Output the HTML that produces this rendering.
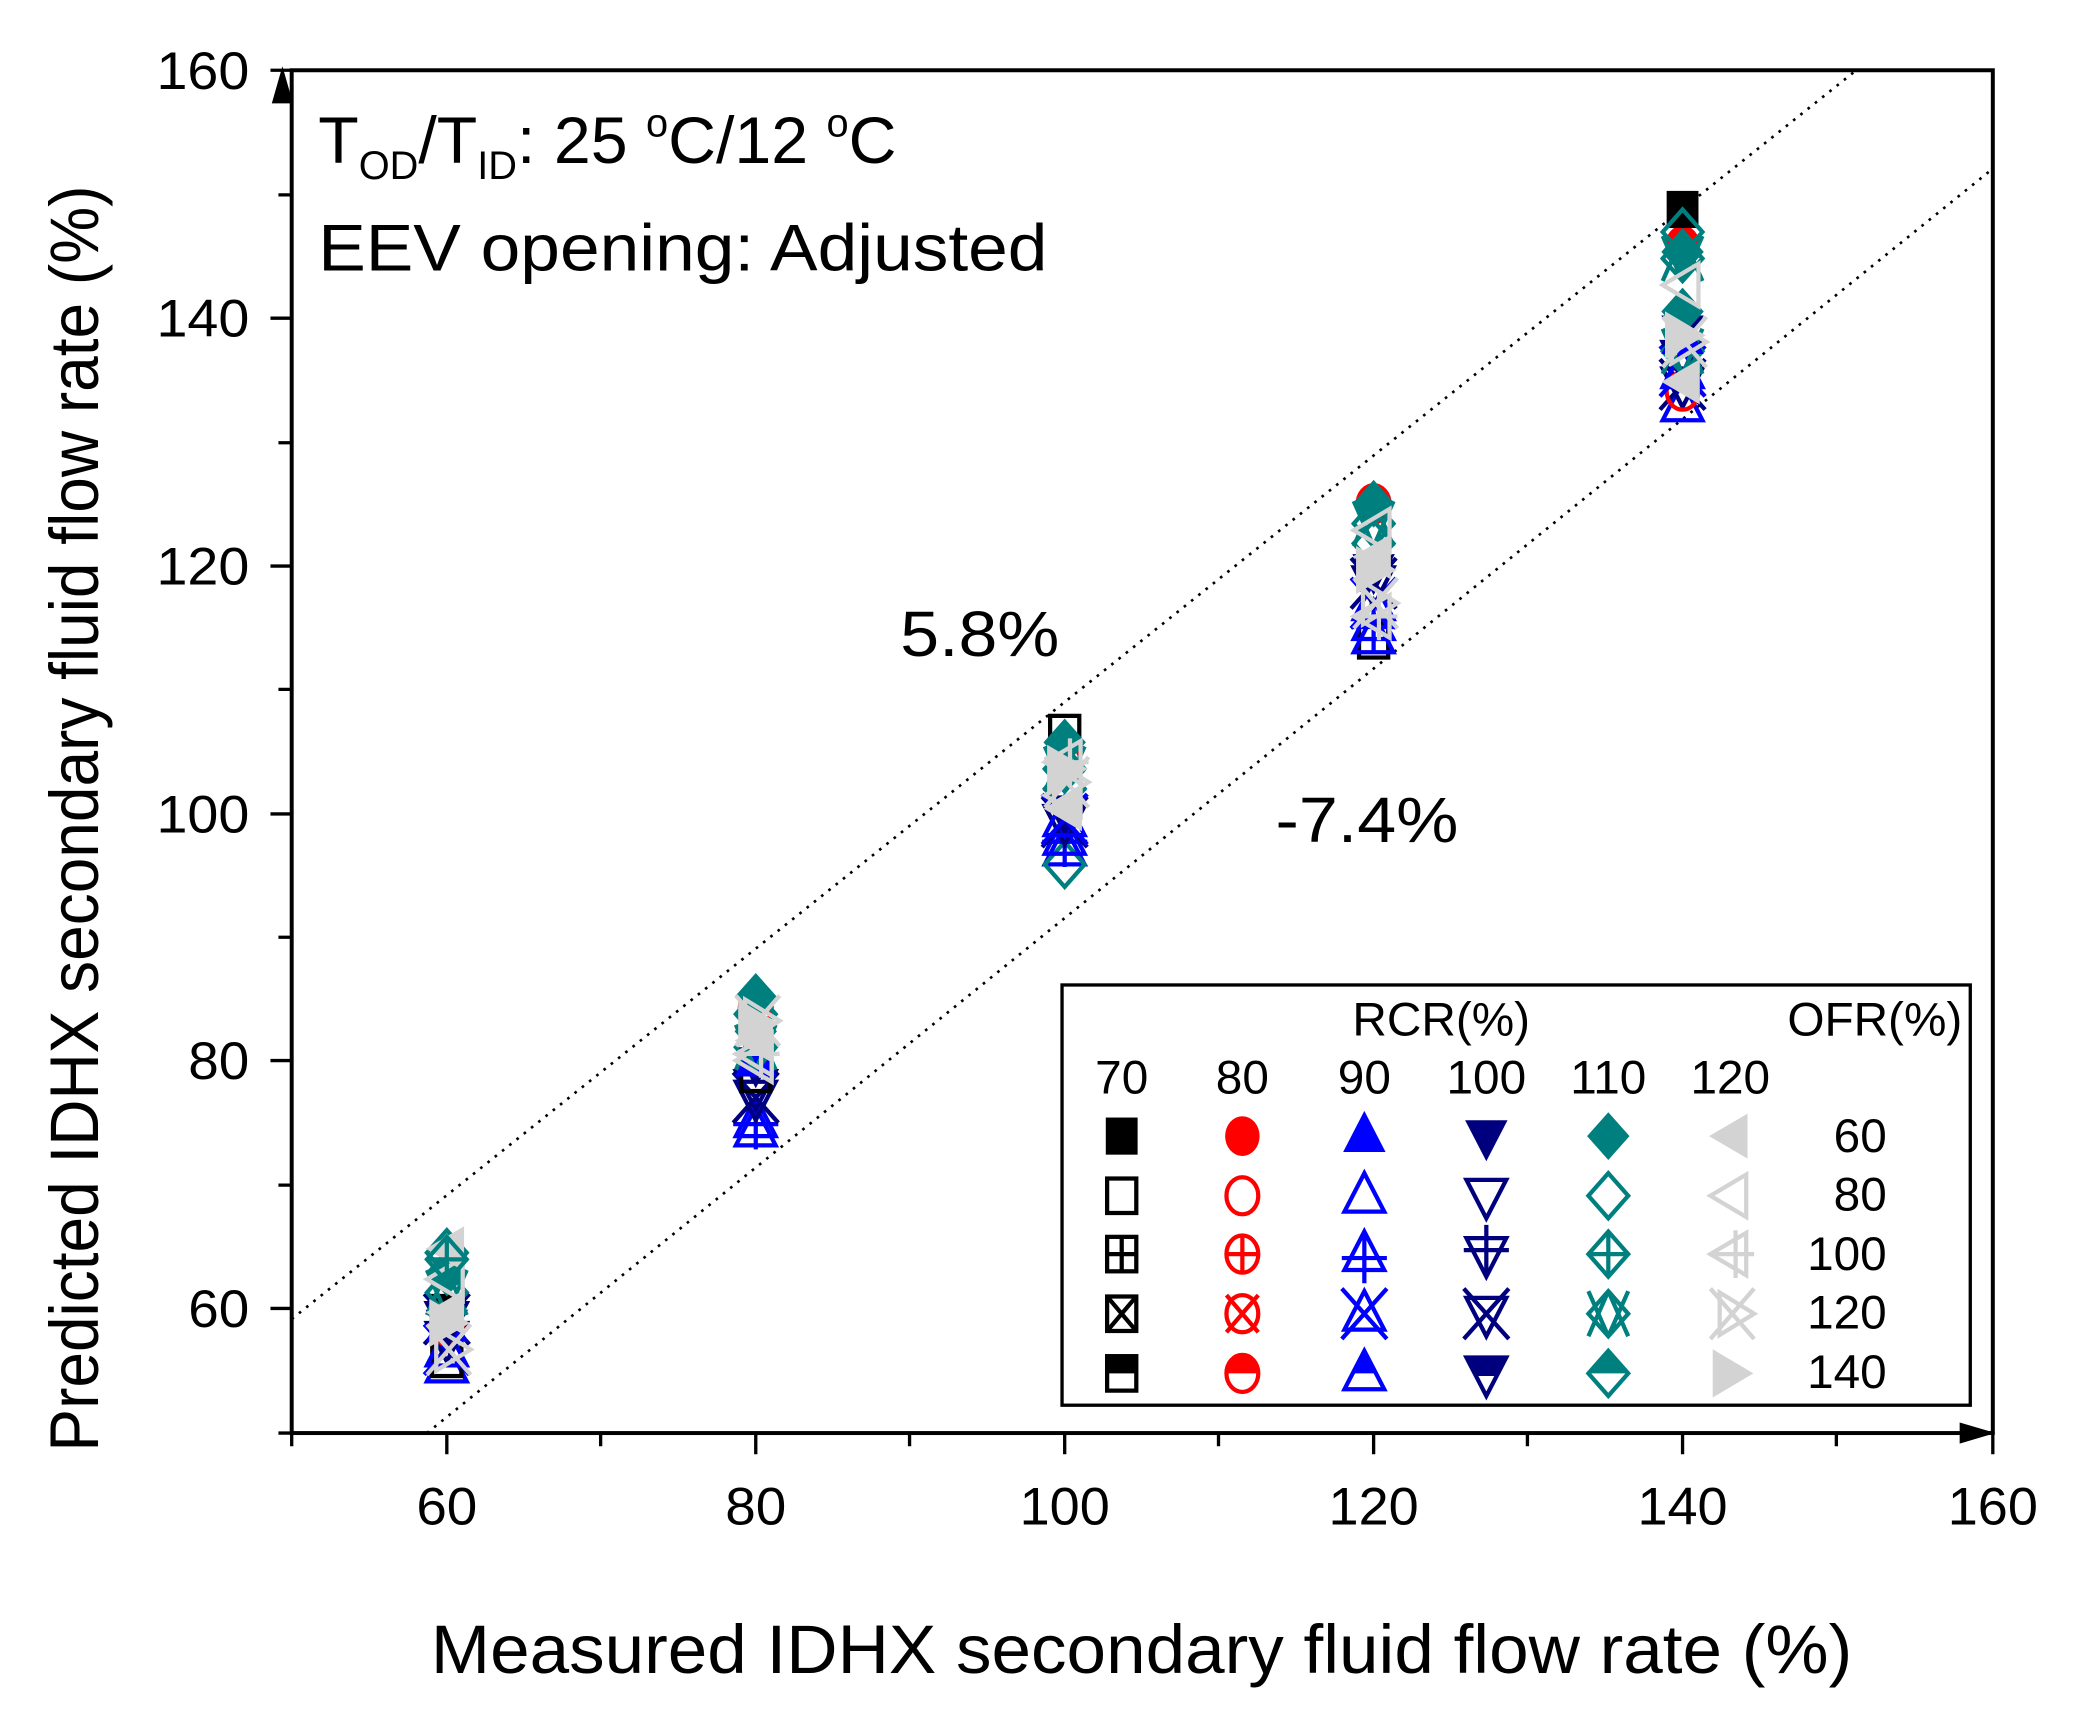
<!DOCTYPE html>
<html><head><meta charset="utf-8"><style>
html,body{margin:0;padding:0;background:#fff}
svg{display:block}
text{font-family:"Liberation Sans",Arial,sans-serif;fill:#000}
</style></head><body>
<svg width="2079" height="1730" viewBox="0 0 1568 1305" preserveAspectRatio="none" xmlns="http://www.w3.org/2000/svg">
<defs>
<g id="s0"><rect x="-12" y="-14" width="24" height="28" fill="#000"/></g>
<g id="s1"><rect x="-11" y="-13" width="22" height="26" fill="none" stroke="#000" stroke-width="3.2"/></g>
<g id="s2"><rect x="-11" y="-13" width="22" height="26" fill="none" stroke="#000" stroke-width="3.2"/><path d="M0-13V13M-11 0H11" stroke="#000" stroke-width="3.2"/></g>
<g id="s3"><rect x="-11" y="-13" width="22" height="26" fill="none" stroke="#000" stroke-width="3.2"/><path d="M-11-13L11 13M11-13L-11 13" stroke="#000" stroke-width="3.2"/></g>
<g id="s4"><rect x="-11" y="-13" width="22" height="13" fill="#000"/><rect x="-11" y="-13" width="22" height="26" fill="none" stroke="#000" stroke-width="3.2"/></g>
<g id="c0"><ellipse rx="13" ry="15" fill="#f00"/></g>
<g id="c1"><ellipse rx="12" ry="14" fill="none" stroke="#f00" stroke-width="3.2"/></g>
<g id="c2"><ellipse rx="12" ry="14" fill="none" stroke="#f00" stroke-width="3.2"/><path d="M0-14V14M-12 0H12" stroke="#f00" stroke-width="3.2"/></g>
<g id="c3"><ellipse rx="12" ry="14" fill="none" stroke="#f00" stroke-width="3.2"/><path d="M-12-14L12 14M12-14L-12 14" stroke="#f00" stroke-width="3.2"/></g>
<g id="c4"><path d="M-13 0A13 15 0 0 1 13 0Z" fill="#f00"/><ellipse rx="12" ry="14" fill="none" stroke="#f00" stroke-width="3.2"/></g>
<g id="u0"><path d="M0-19L16 12H-16Z" fill="#00f"/></g>
<g id="u1"><path d="M0-17L15 12H-15Z" fill="none" stroke="#00f" stroke-width="3.2"/></g>
<g id="u2"><path d="M0-17L15 12H-15Z" fill="none" stroke="#00f" stroke-width="3.2"/><path d="M0-17V22M-17 3H17" stroke="#00f" stroke-width="3.2"/></g>
<g id="u3"><path d="M0-17L15 12H-15Z" fill="none" stroke="#00f" stroke-width="3.2"/><path d="M-17-19L17 19M17-19L-17 19" stroke="#00f" stroke-width="3.2"/></g>
<g id="u4"><path d="M0-19L9 0H-9Z" fill="#00f"/><path d="M0-17L15 12H-15Z" fill="none" stroke="#00f" stroke-width="3.2"/></g>
<g id="d0"><path d="M-16-12H16L0 19Z" fill="#00007f"/></g>
<g id="d1"><path d="M-15-12H15L0 17Z" fill="none" stroke="#00007f" stroke-width="3.2"/></g>
<g id="d2"><path d="M-15-12H15L0 17Z" fill="none" stroke="#00007f" stroke-width="3.2"/><path d="M0-22V17M-17-3H17" stroke="#00007f" stroke-width="3.2"/></g>
<g id="d3"><path d="M-15-12H15L0 17Z" fill="none" stroke="#00007f" stroke-width="3.2"/><path d="M-17-19L17 19M17-19L-17 19" stroke="#00007f" stroke-width="3.2"/></g>
<g id="d4"><path d="M-16-12H16L9 2H-9Z" fill="#00007f"/><path d="M-15-12H15L0 17Z" fill="none" stroke="#00007f" stroke-width="3.2"/></g>
<g id="m0"><path d="M0-18L16 0L0 18L-16 0Z" fill="#007f7f"/></g>
<g id="m1"><path d="M0-17L15 0L0 17L-15 0Z" fill="none" stroke="#007f7f" stroke-width="3.2"/></g>
<g id="m2"><path d="M0-17L15 0L0 17L-15 0Z" fill="none" stroke="#007f7f" stroke-width="3.2"/><path d="M0-17V17M-15 0H15" stroke="#007f7f" stroke-width="3.2"/></g>
<g id="m3"><path d="M0-17L15 0L0 17L-15 0Z M0-17L-15 17M0-17L15 17M0 17L-15-17M0 17L15-17" fill="none" stroke="#007f7f" stroke-width="3.2"/></g>
<g id="m4"><path d="M0-18L16 0H-16Z" fill="#007f7f"/><path d="M0-17L15 0L0 17L-15 0Z" fill="none" stroke="#007f7f" stroke-width="3.2"/></g>
<g id="l0"><path d="M13-17V17L-16 0Z" fill="#d3d3d3"/></g>
<g id="l1"><path d="M12-16V16L-15 0Z" fill="none" stroke="#d3d3d3" stroke-width="3.2"/></g>
<g id="l2"><path d="M12-16V16L-15 0Z" fill="none" stroke="#d3d3d3" stroke-width="3.2"/><path d="M4-18V18M-16 0H18" stroke="#d3d3d3" stroke-width="3.2"/></g>
<g id="l3"><path d="M-15-19L18 19M-15 19L18-19M-8-16V16L18 0Z" fill="none" stroke="#d3d3d3" stroke-width="3.2"/></g>
<g id="l4"><path d="M-13-17V17L16 0Z" fill="#d3d3d3"/><path d="M-12-16V16L15 0Z" fill="none" stroke="#d3d3d3" stroke-width="2.5"/></g>
</defs>

<line x1="220" y1="995" x2="1400" y2="53" stroke="#000" stroke-width="2" stroke-dasharray="2,5"/>
<line x1="322" y1="1081" x2="1502" y2="128" stroke="#000" stroke-width="2" stroke-dasharray="2,5"/>

<g>
<use href="#u1" x="337" y="1030"/><use href="#s1" x="337" y="1025"/><use href="#u3" x="337" y="1018"/>
<use href="#d1" x="337" y="1010"/><use href="#c1" x="337" y="1000"/><use href="#d3" x="337" y="995"/>
<use href="#u0" x="337" y="1000"/><use href="#d0" x="337" y="1000"/><use href="#s0" x="337" y="990"/>
<use href="#m3" x="337" y="975"/><use href="#m0" x="337" y="960"/><use href="#m1" x="337" y="945"/>
<use href="#l0" x="337" y="990"/><use href="#l3" x="337" y="1018"/><use href="#l1" x="337" y="965"/>
<use href="#l0" x="337" y="942"/><use href="#m2" x="337" y="950"/><use href="#l4" x="337" y="998"/>
<use href="#u2" x="570" y="845"/><use href="#u1" x="570" y="852"/><use href="#d3" x="570" y="828"/>
<use href="#d1" x="570" y="820"/><use href="#s1" x="570" y="810"/><use href="#d0" x="570" y="802"/>
<use href="#u0" x="570" y="800"/><use href="#c1" x="570" y="760"/><use href="#m3" x="570" y="790"/>
<use href="#m0" x="570" y="778"/><use href="#m1" x="570" y="765"/><use href="#m0" x="570" y="752"/>
<use href="#l1" x="570" y="800"/><use href="#l2" x="570" y="795"/><use href="#l0" x="570" y="785"/>
<use href="#l3" x="570" y="770"/><use href="#l4" x="570" y="772"/>
<use href="#u1" x="803" y="640"/><use href="#m1" x="803" y="652"/><use href="#u2" x="803" y="632"/>
<use href="#d3" x="803" y="620"/><use href="#d0" x="803" y="612"/><use href="#u3" x="803" y="618"/>
<use href="#s1" x="803" y="553"/><use href="#c1" x="803" y="575"/><use href="#m0" x="803" y="560"/>
<use href="#m3" x="803" y="580"/><use href="#m1" x="803" y="595"/><use href="#l1" x="803" y="600"/>
<use href="#l0" x="803" y="610"/><use href="#l3" x="803" y="590"/><use href="#l4" x="803" y="580"/>
<use href="#l2" x="803" y="575"/>
<use href="#s1" x="1036" y="483"/><use href="#u1" x="1036" y="480"/><use href="#u2" x="1036" y="470"/>
<use href="#u3" x="1036" y="455"/><use href="#d3" x="1036" y="440"/><use href="#d0" x="1036" y="430"/>
<use href="#c1" x="1036" y="380"/><use href="#m3" x="1036" y="395"/><use href="#m0" x="1036" y="380"/>
<use href="#m1" x="1036" y="410"/><use href="#l3" x="1036" y="455"/><use href="#l2" x="1036" y="465"/>
<use href="#l0" x="1036" y="420"/><use href="#l1" x="1036" y="400"/><use href="#l4" x="1036" y="430"/>
<use href="#u1" x="1269" y="305"/><use href="#d3" x="1269" y="290"/><use href="#c1" x="1269" y="295"/>
<use href="#u3" x="1269" y="280"/><use href="#d1" x="1269" y="270"/><use href="#m3" x="1269" y="265"/>
<use href="#d0" x="1269" y="250"/><use href="#u0" x="1269" y="255"/><use href="#m0" x="1269" y="235"/>
<use href="#c0" x="1269" y="185"/><use href="#m3" x="1269" y="195"/><use href="#m0" x="1269" y="190"/>
<use href="#s0" x="1269" y="158"/><use href="#m1" x="1269" y="175"/>
<use href="#l0" x="1269" y="288"/><use href="#l4" x="1269" y="253"/><use href="#l3" x="1269" y="258"/>
<use href="#l1" x="1269" y="215"/>
</g>

<rect x="220" y="53" width="1283" height="1028" fill="none" stroke="#000" stroke-width="3"/>
<path d="M213 50L205 78H221Z" fill="#000"/>
<path d="M1505 1081L1478 1073V1089Z" fill="#000"/>
<g stroke="#000" stroke-width="2.5">
<path d="M220 1081v10M337 1081v16M453 1081v10M570 1081v16M686 1081v10M803 1081v16M919 1081v10M1036 1081v16M1152 1081v10M1269 1081v16M1385 1081v10M1503 1081v16"/>
<path d="M220 53h-16M220 147h-10M220 240h-16M220 334h-10M220 427h-16M220 520h-10M220 614h-16M220 707h-10M220 800h-16M220 894h-10M220 987h-16M220 1081h-10"/>
</g>
<g font-size="40" text-anchor="middle" lengthAdjust="spacingAndGlyphs">
<text x="337" y="1150" textLength="46" lengthAdjust="spacingAndGlyphs">60</text><text x="570" y="1150" textLength="46" lengthAdjust="spacingAndGlyphs">80</text><text x="803" y="1150" textLength="68" lengthAdjust="spacingAndGlyphs">100</text>
<text x="1036" y="1150" textLength="68" lengthAdjust="spacingAndGlyphs">120</text><text x="1269" y="1150" textLength="68" lengthAdjust="spacingAndGlyphs">140</text><text x="1503" y="1150" textLength="68" lengthAdjust="spacingAndGlyphs">160</text>
</g>
<g font-size="40" text-anchor="end">
<text x="188" y="67" textLength="70" lengthAdjust="spacingAndGlyphs">160</text><text x="188" y="254" textLength="70" lengthAdjust="spacingAndGlyphs">140</text><text x="188" y="441" textLength="70" lengthAdjust="spacingAndGlyphs">120</text>
<text x="188" y="628" textLength="70" lengthAdjust="spacingAndGlyphs">100</text><text x="188" y="814" textLength="46" lengthAdjust="spacingAndGlyphs">80</text><text x="188" y="1001" textLength="46" lengthAdjust="spacingAndGlyphs">60</text>
</g>
<text x="325" y="1262" font-size="52" textLength="1072" lengthAdjust="spacingAndGlyphs">Measured IDHX secondary fluid flow rate (%)</text>
<text transform="translate(74,1095) rotate(-90)" font-size="52" textLength="955" lengthAdjust="spacingAndGlyphs">Predicted IDHX secondary fluid flow rate (%)</text>

<text x="240" y="123" font-size="50">T<tspan font-size="30" dy="12">OD</tspan><tspan dy="-12">/T</tspan><tspan font-size="30" dy="12">ID</tspan><tspan dy="-12">: 25 </tspan><tspan font-size="30" dy="-20">o</tspan><tspan dy="20">C/12 </tspan><tspan font-size="30" dy="-20">o</tspan><tspan dy="20">C</tspan></text>
<text x="240" y="204" font-size="50" textLength="550" lengthAdjust="spacingAndGlyphs">EEV opening: Adjusted</text>
<text x="679" y="495" font-size="48" textLength="120" lengthAdjust="spacingAndGlyphs">5.8%</text>
<text x="962" y="635" font-size="48" textLength="138" lengthAdjust="spacingAndGlyphs">-7.4%</text>

<rect x="801" y="743" width="685" height="317" fill="#fff" stroke="#000" stroke-width="2.5"/>
<g font-size="36" text-anchor="middle">
<text x="1087" y="781">RCR(%)</text><text x="1414" y="781">OFR(%)</text>
<text x="846" y="825">70</text><text x="937" y="825">80</text><text x="1029" y="825">90</text>
<text x="1121" y="825">100</text><text x="1213" y="825">110</text><text x="1305" y="825">120</text>
</g>
<g font-size="36" text-anchor="end">
<text x="1423" y="869">60</text><text x="1423" y="913">80</text><text x="1423" y="958">100</text>
<text x="1423" y="1002">120</text><text x="1423" y="1047">140</text>
</g>
<g>
<use href="#s0" x="846" y="857"/><use href="#c0" x="937" y="857"/><use href="#u0" x="1029" y="857"/><use href="#d0" x="1121" y="857"/><use href="#m0" x="1213" y="857"/><use href="#l0" x="1305" y="857"/>
<use href="#s1" x="846" y="902"/><use href="#c1" x="937" y="902"/><use href="#u1" x="1029" y="902"/><use href="#d1" x="1121" y="902"/><use href="#m1" x="1213" y="902"/><use href="#l1" x="1305" y="902"/>
<use href="#s2" x="846" y="946"/><use href="#c2" x="937" y="946"/><use href="#u2" x="1029" y="946"/><use href="#d2" x="1121" y="946"/><use href="#m2" x="1213" y="946"/><use href="#l2" x="1305" y="946"/>
<use href="#s3" x="846" y="991"/><use href="#c3" x="937" y="991"/><use href="#u3" x="1029" y="991"/><use href="#d3" x="1121" y="991"/><use href="#m3" x="1213" y="991"/><use href="#l3" x="1305" y="991"/>
<use href="#s4" x="846" y="1036"/><use href="#c4" x="937" y="1036"/><use href="#u4" x="1029" y="1036"/><use href="#d4" x="1121" y="1036"/><use href="#m4" x="1213" y="1036"/><use href="#l4" x="1305" y="1036"/>
</g>
</svg>
</body></html>
